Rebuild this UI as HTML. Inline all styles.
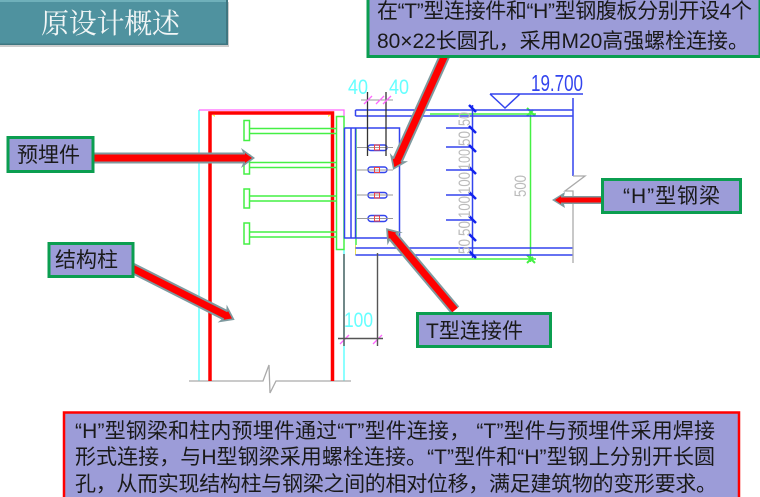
<!DOCTYPE html>
<html><head><meta charset="utf-8"><style>
html,body{margin:0;padding:0;background:#fff}
svg{display:block}
text{font-family:"Liberation Sans","Noto Sans CJK SC",sans-serif}
.t{font-size:21px;fill:#1a1a1a}
.c{font-family:"Liberation Sans",sans-serif;fill:#66ffff;font-size:21px}
.g{font-family:"Liberation Sans",sans-serif;fill:#bbb;font-size:17px}
</style></head><body>
<svg width="760" height="497" viewBox="0 0 760 497" xmlns="http://www.w3.org/2000/svg">
<rect width="760" height="497" fill="#fff"/>
<!-- title -->
<rect x="0" y="2" width="229" height="45" fill="#999" opacity=".5"/>
<rect x="0" y="0" width="228" height="45" fill="#4f929f"/>
<rect x="0" y="0" width="228" height="2" fill="#6fb0ba"/>
<rect x="226" y="0" width="2" height="45" fill="#3f7680"/>
<rect x="0" y="43.500" width="228" height="1.500" fill="#3f7680"/>
<text x="41" y="33" font-size="28" fill="#f2f6f6" textLength="139" style="font-family:'Noto Serif CJK SC','Liberation Serif',serif">原设计概述</text>

<g fill="none" stroke-width="1">
<!-- column -->
<path d="M199 110V381M344 250V381" stroke="#66ffff" stroke-width="1.500"/>
<path d="M199 110H344V116" stroke="#ff66ff" stroke-width="1.300"/>
<path d="M189 381H263L269 365L270 393L276 381H351" stroke="#aaa" stroke-width="1.300"/>
<path d="M210 381V113H332.500V381" stroke="#f00" stroke-width="3.500"/>
<path d="M212 115h3v2zM331 115h-3v2z" fill="#ffee44"/>
<!-- embedded parts -->
<g stroke="#44f044" stroke-width="1.500">
<rect x="244" y="120.500" width="5.500" height="20"/>
<rect x="244" y="155" width="5.500" height="19"/>
<rect x="244" y="189" width="5.500" height="19"/>
<rect x="244" y="223" width="5.500" height="21"/>
<path d="M250 128.500H336M250 133.500H336M250 162.500H336M250 167.500H336M250 196H336M250 201H336M250 232H336M250 237H336"/>
<rect x="336.500" y="116.500" width="7.500" height="133"/>
<path d="M356 128V245"/>
<path d="M430 114H536M430 259H536M530.500 110V262"/>
<path d="M527 108l8 8M527 116l6-6M527 255l8 8M527 263l6-6" stroke-width="2"/>
</g>
<path d="M355.500 245V255" stroke="#e8e050"/>
<!-- T piece -->
<g stroke="#3344ee" stroke-width="1.500">
<path d="M344.500 128H399.500V238H344.500V128M351 128V238M355.500 128V238"/>
<path d="M355.500 110V116M355.500 110H573M355.500 116H573M355.500 248H573M355.500 255H573M573 98V176"/>
<path d="M490 94H583M490 94L505 108L520 94"/>
<path d="M472.500 105V258"/>
<path d="M446 128H472M446 147H472M446 170H472M446 195H472M446 220H472"/>
<rect x="368" y="145" width="19" height="5.500" rx="2.700"/>
<rect x="368" y="167" width="19" height="5.500" rx="2.700"/>
<rect x="368" y="192.500" width="19" height="5.500" rx="2.700"/>
<rect x="368" y="215.500" width="19" height="6" rx="3"/>
</g>
<path d="M469 105l7 7M469 126l7 7M469 145l7 7M469 167l7 7M469 192l7 7M469 216l7 7M469 234l7 7M469 251l7 7" stroke="#1122ee" stroke-width="2.500"/>
<path d="M573 176H585L565 191H573V263" stroke="#aaa" stroke-width="1.300"/>
<path d="M357 147.500H393M357 170H393M357 195H393M357 218.500H393" stroke="#999"/>
<g fill="none" stroke="#ee4444"><rect x="374.500" y="145" width="5" height="5"/><rect x="374.500" y="167.500" width="5" height="5"/><rect x="374.500" y="193" width="5" height="5"/><rect x="374.500" y="216" width="5" height="5"/></g>
<!-- dims -->
<path d="M367.500 92V156M386 92V156" stroke="#333" stroke-width="1.300"/>
<path d="M361 100H393" stroke="#999"/>
<path d="M364 104l8-8M376 104l8-8M383 104l8-8M340 344l9-9M373 344l9-9" stroke="#ff66ff" stroke-width="1.300"/>
<path d="M344 254V346M377.500 253V346M338 338.500H383" stroke="#555" stroke-width="1.400"/>
</g>
<text class="c" x="348" y="94" textLength="20" lengthAdjust="spacingAndGlyphs">40</text>
<text class="c" x="389" y="94" textLength="20" lengthAdjust="spacingAndGlyphs">40</text>
<text class="c" x="344" y="327" textLength="29" lengthAdjust="spacingAndGlyphs">100</text>
<text x="531" y="91" font-size="23" fill="#3344ee" textLength="52" lengthAdjust="spacingAndGlyphs">19.700</text>
<text class="g" transform="translate(526,197) rotate(-90)" textLength="22" lengthAdjust="spacingAndGlyphs">500</text>
<g>
<text class="g" transform="translate(470,126) rotate(-90)" textLength="14" lengthAdjust="spacingAndGlyphs">50</text>
<text class="g" transform="translate(470,146) rotate(-90)" textLength="15" lengthAdjust="spacingAndGlyphs">50</text>
<text class="g" transform="translate(470,170) rotate(-90)" textLength="21" lengthAdjust="spacingAndGlyphs">100</text>
<text class="g" transform="translate(470,194) rotate(-90)" textLength="22" lengthAdjust="spacingAndGlyphs">100</text>
<text class="g" transform="translate(470,218) rotate(-90)" textLength="22" lengthAdjust="spacingAndGlyphs">100</text>
<text class="g" transform="translate(470,236) rotate(-90)" textLength="15" lengthAdjust="spacingAndGlyphs">50</text>
<text class="g" transform="translate(470,254) rotate(-90)" textLength="15" lengthAdjust="spacingAndGlyphs">50</text>
</g>

<!-- arrows -->
<g>
<g transform="translate(94,158)"><path d="M0-5.500H149L147-10L161 0L147 10L149 5.500H0Z" fill="#7f9a9f"/><path d="M0-3.500H151V-5L158 0L151 5V3.500H0Z" fill="#f00"/></g>
<g transform="translate(132,268) rotate(26.800)"><path d="M0-5.500H103L101-10L115 0L101 10L103 5.500H0Z" fill="#7f9a9f"/><path d="M0-3.500H105V-5L112 0L105 5V3.500H0Z" fill="#f00"/></g>
<g transform="translate(455,310) rotate(229.900)"><path d="M0-5.500H95L93-10L107 0L93 10L95 5.500H0Z" fill="#7f9a9f"/><path d="M0-3.500H97V-5L104 0L97 5V3.500H0Z" fill="#f00"/></g>
<g transform="translate(602,200) rotate(180)"><path d="M0-4H38L37-8L50 0L37 8L38 4H0Z" fill="#7f9a9f"/><path d="M0-2.500H41V-4L47 0L41 4V2.500H0Z" fill="#f00"/></g>
<g transform="translate(445,55) rotate(114.300)"><path d="M0-5.500H114L112-10L126 0L112 10L114 5.500H0Z" fill="#7f9a9f"/><path d="M0-3.500H116V-5L123 0L116 5V3.500H0Z" fill="#f00"/></g>
</g>

<!-- callouts -->
<g fill="#9c9cd8" stroke="#0b9e50" stroke-width="3">
<rect x="368" y="-4" width="392" height="60.500"/>
<rect x="8" y="137.500" width="85" height="34"/>
<rect x="49" y="243.500" width="84" height="33"/>
<rect x="417.500" y="313.500" width="133" height="33"/>
<rect x="602.500" y="179.500" width="138" height="33"/>
</g>
<rect x="64" y="412.500" width="675" height="90" fill="#9c9cd8" stroke="#f00" stroke-width="2.500"/>

<text class="t" x="377" y="18" textLength="375">在“T”型连接件和“H”型钢腹板分别开设4个</text>
<text class="t" x="377" y="48" textLength="372">80×22长圆孔，采用M20高强螺栓连接。</text>
<text class="t" x="17" y="162" textLength="63">预埋件</text>
<text class="t" x="55" y="267" textLength="63">结构柱</text>
<text class="t" x="426" y="338" textLength="97">T型连接件</text>
<text class="t" x="623" y="203" textLength="97">“H”型钢梁</text>
<text class="t" x="75" y="438" textLength="640">“H”型钢梁和柱内预埋件通过“T”型件连接， “T”型件与预埋件采用焊接</text>
<text class="t" x="75" y="464" textLength="640">形式连接，与H型钢梁采用螺栓连接。“T”型件和“H”型钢上分别开长圆</text>
<text class="t" x="75" y="491" textLength="642">孔，从而实现结构柱与钢梁之间的相对位移，满足建筑物的变形要求。</text>
</svg>
</body></html>
